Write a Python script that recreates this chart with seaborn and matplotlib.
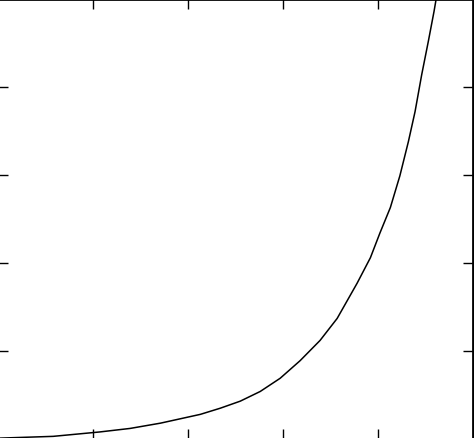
import matplotlib
matplotlib.use("Agg")
import matplotlib.pyplot as plt
import seaborn as sns
import pandas as pd

# valeurs
x_vals = [0.02, 0.58, 1.07, 1.39, 1.71, 1.92, 2.13, 2.34, 2.55, 2.76, 2.97,
          3.18, 3.39, 3.57, 3.78, 3.92, 4.02, 4.13, 4.23, 4.32, 4.39, 4.46,
          4.53, 4.59, 4.62]
y_vals = [0.01, 0.03, 0.08, 0.12, 0.18, 0.23, 0.28, 0.35, 0.43, 0.54, 0.69,
          0.89, 1.12, 1.37, 1.77, 2.06, 2.34, 2.63, 2.99, 3.38, 3.72, 4.14,
          4.52, 4.86, 5.05]
x_ticks = [1, 2, 3, 4]
y_ticks = [1, 2, 3, 4]

sns.set_style("ticks")
plt.rcParams["font.family"] = ["DejaVu Sans"]

df = pd.DataFrame({"x": x_vals, "y": y_vals})

fig = plt.figure(figsize=(4.74, 4.39), dpi=100)
ax = fig.add_axes([-2 / 474, -1 / 439, 475 / 474, 440 / 439])
sns.lineplot(data=df, x="x", y="y", ax=ax, color="black", linewidth=1.1)

ax.set_xlim(0, 5)
ax.set_ylim(0, 5)
ax.set_xticks(x_ticks)
ax.set_yticks(y_ticks)
ax.tick_params(direction="in", length=7, width=1.0, color="black",
               top=True, right=True, labelbottom=False, labelleft=False)
ax.set_xlabel("")
ax.set_ylabel("")
for s in ax.spines.values():
    s.set_color("black")
    s.set_linewidth(2.0)

fig.savefig("out.png", dpi=100)
